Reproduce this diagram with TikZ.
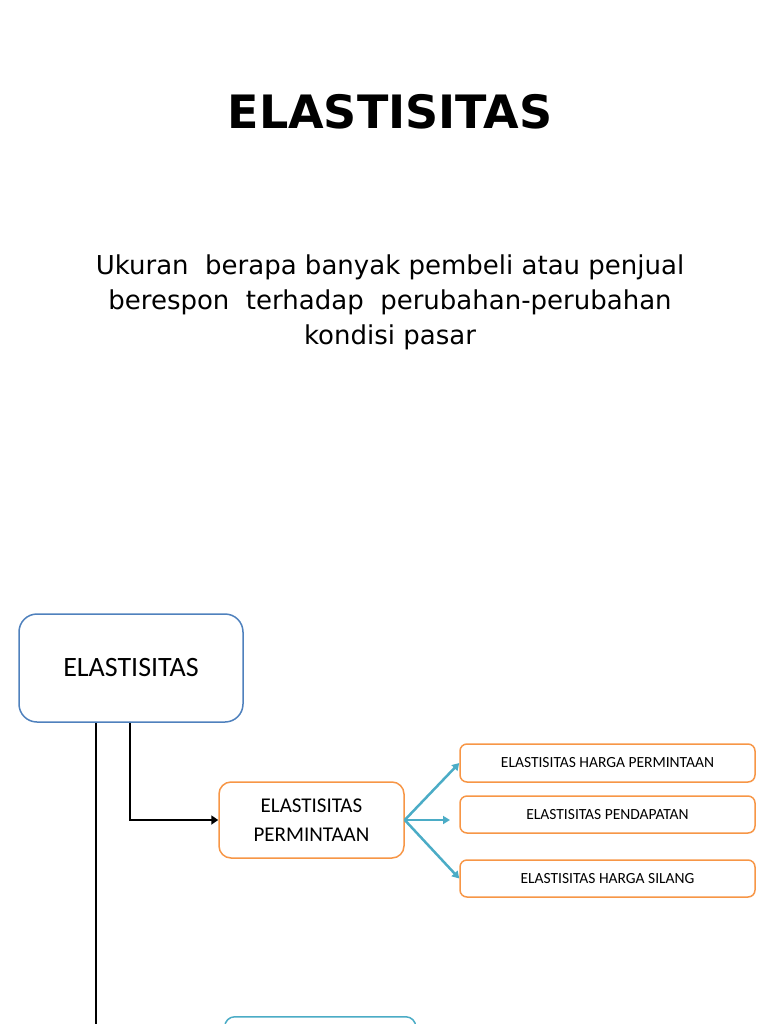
\documentclass[tikz,border=0pt]{standalone}
\usepackage{fontspec}
\setmainfont{DejaVu Sans}
\newfontfamily\carl{Carlito}
\usetikzlibrary{arrows.meta}
\definecolor{bblue}{HTML}{4F81BD}
\definecolor{borange}{HTML}{F79646}
\definecolor{bcyan}{HTML}{4BACC6}
\tikzset{
 box/.style={draw,line width=1.5pt,rounded corners=#1,fill=white,align=center},
 blk/.style={line width=2.5pt,black},
 cy/.style={line width=2.5pt,bcyan,-{Triangle[length=7pt,width=8pt]}}
}
\begin{document}
\begin{tikzpicture}[x=1pt,y=-1pt]
\path[use as bounding box] (0,0) rectangle (768,1024);
\clip (0,0) rectangle (768,1024);
\node[font=\bfseries\fontsize{46}{50}\selectfont] (t) at (390,112) {ELASTISITAS};
\node[align=center,font=\fontsize{26}{35}\selectfont] (p) at (390,302) {Ukuran\ \ berapa banyak pembeli atau penjual\\berespon\ \ terhadap\ \ perubahan-perubahan\\kondisi pasar};
\node[box=18pt,draw=bblue,minimum width=224pt,minimum height=108pt,font=\carl\fontsize{28}{32}\selectfont] (m) at (131,668) {ELASTISITAS};
\node[box=12pt,draw=borange,minimum width=185pt,minimum height=76pt,font=\carl\fontsize{21}{29}\selectfont] (pe) at (311.5,820) {ELASTISITAS\\PERMINTAAN};
\node[box=7pt,draw=borange,minimum width=295pt,minimum height=38pt,font=\carl\fontsize{15.5}{18}\selectfont] (s1) at (607.5,763) {ELASTISITAS HARGA PERMINTAAN};
\node[box=7pt,draw=borange,minimum width=295pt,minimum height=37pt,font=\carl\fontsize{15.5}{18}\selectfont] (s2) at (607.5,814.5) {ELASTISITAS PENDAPATAN};
\node[box=7pt,draw=borange,minimum width=295pt,minimum height=37pt,font=\carl\fontsize{15.5}{18}\selectfont] (s3) at (607.5,878.5) {ELASTISITAS HARGA SILANG};
\node[box=10pt,draw=bcyan,minimum width=191pt,minimum height=40pt,anchor=north west] (b) at (224,1016) {};
\coordinate (bot) at (96,1030);
\draw[blk] (m.south -| bot) -- (bot);
\draw[blk,-{Triangle[length=7pt,width=9pt]}] (m.south) ++(-1,0) |- (pe.west);
\coordinate (c2) at (450,820);
\draw[cy] (pe.east) -- (s1.west);
\draw[cy] (pe.east) -- (c2);
\draw[cy] (pe.east) -- (s3.west);
\end{tikzpicture}
\end{document}
